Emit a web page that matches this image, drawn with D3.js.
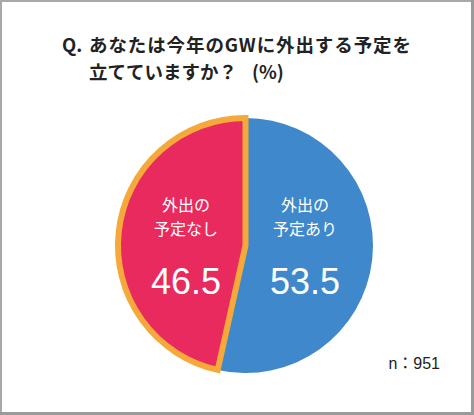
<!DOCTYPE html>
<html>
<head>
<meta charset="utf-8">
<script src="https://cdn.jsdelivr.net/npm/d3@7/dist/d3.min.js"></script>
<style>
  html, body { margin: 0; padding: 0; background: #fff; }
  svg { display: block; }
</style>
</head>
<body>
<svg id="chart" width="474" height="415"></svg>
<script>
// data
const categories = ["外出の予定あり", "外出の予定なし"];
const labelLines = [["外出の", "予定あり"], ["外出の", "予定なし"]];
const values = [53.5, 46.5];
const colors = ["#3f88cb", "#e82a5e"];
const titleLines = ["あなたは今年のGWに外出する予定を", "立てていますか？"];
const sampleSize = "n：951";

const svg = d3.select("#chart");
const width = 474, height = 415;

// frame
svg.append("rect")
    .attr("x", 1).attr("y", 1)
    .attr("width", width - 2).attr("height", height - 2)
    .attr("fill", "#fff")
    .attr("stroke", "#a8a8a8")
    .attr("stroke-width", 2);
svg.append("rect")
    .attr("x", width - 3).attr("y", 0)
    .attr("width", 3).attr("height", height)
    .attr("fill", "#9a9a9a");
svg.append("rect")
    .attr("x", 0).attr("y", height - 3)
    .attr("width", width).attr("height", 3)
    .attr("fill", "#9a9a9a");

// title
const title = svg.append("g")
    .attr("font-family", "'Noto Sans CJK JP', sans-serif")
    .attr("font-weight", "bold")
    .attr("font-size", 18.5)
    .attr("fill", "#222");

title.append("text").attr("x", 62).attr("y", 52).text("Q.");
title.append("text").attr("x", 89).attr("y", 52)
    .attr("textLength", 322).attr("lengthAdjust", "spacing")
    .text(titleLines[0]);
title.append("text").attr("x", 89).attr("y", 79).text(titleLines[1]);
title.append("text").attr("x", 252).attr("y", 79).text("(%)");

// pie
const cx = 245.5, cy = 245.5, r = 127.5;
const pie = d3.pie().sort(null).value(d => d);
const arcs = pie(values);
const arc = d3.arc().innerRadius(0).outerRadius(r);
const labelArc = d3.arc().innerRadius(r * 0.47).outerRadius(r * 0.47);

const g = svg.append("g").attr("transform", `translate(${cx},${cy})`);

g.selectAll("path")
    .data(arcs)
    .enter().append("path")
    .attr("d", arc)
    .attr("fill", (d, i) => colors[i])
    .attr("stroke", (d, i) => i === 1 ? "#f6a93b" : "none")
    .attr("stroke-width", 6)
    .attr("stroke-linejoin", "miter");

const labels = g.selectAll("g.label")
    .data(arcs)
    .enter().append("g")
    .attr("class", "label")
    .attr("transform", d => {
        const c = labelArc.centroid(d);
        return `translate(${c[0]},0)`;
    });

labels.each(function(d, i) {
    const sel = d3.select(this);
    sel.append("text")
        .attr("text-anchor", "middle")
        .attr("y", -35)
        .attr("font-family", "'Noto Sans CJK JP', sans-serif")
        .attr("font-size", 16)
        .attr("fill", "#fff")
        .text(labelLines[i][0]);
    sel.append("text")
        .attr("text-anchor", "middle")
        .attr("y", -11)
        .attr("font-family", "'Noto Sans CJK JP', sans-serif")
        .attr("font-size", 16)
        .attr("fill", "#fff")
        .text(labelLines[i][1]);
    sel.append("text")
        .attr("text-anchor", "middle")
        .attr("y", 48)
        .attr("font-family", "'Liberation Sans', Arial, sans-serif")
        .attr("font-size", 36)
        .attr("fill", "#fff")
        .text(d.data.toFixed(1));
});

// sample size
svg.append("text")
    .attr("x", 440).attr("y", 369)
    .attr("text-anchor", "end")
    .attr("font-family", "'Liberation Sans', 'Noto Sans CJK JP', sans-serif")
    .attr("font-size", 16)
    .attr("fill", "#222")
    .text(sampleSize);
</script>
</body>
</html>
